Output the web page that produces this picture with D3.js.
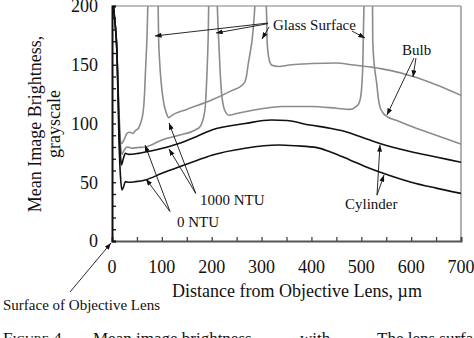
<!DOCTYPE html>
<html><head><meta charset="utf-8">
<script src="https://cdn.jsdelivr.net/npm/d3@7"></script>
<style>
body{margin:0;background:#fff}
svg{display:block}
text{font-family:"Liberation Serif","Times New Roman",serif;fill:#111}
</style></head>
<body><svg id="c" width="474" height="338"></svg>
<script>
// ---- data (distance µm, brightness grayscale) ----
const bulb1000 = [[0,215],[4,195],[10,160],[14,110],[19,83],[24,86],[30,91.5],[36,92.5],[42,91.5],[47,94],[53,96],[57,100],[61,106],[63.5,114],[65.5,127],[67,143],[68.5,157],[70,171],[71,186],[72,203],[82,300],[92.5,203],[93,186],[93.6,171],[95,157],[97,143],[100,129],[104,117],[109,109],[114,105],[120,107],[150,112],[200,120],[240,128],[262,133],[267,136],[270,141],[273,150],[277,160],[281,171],[285,190],[287,203],[299,300],[309,203],[310.5,185],[311,171],[314,157],[318,151],[321,149.5],[334,148.5],[360,150],[400,151],[450,151.5],[480,150],[520,148],[560,145],[604,140],[650,133],[700,124]];
const bulb0 = [[0,215],[4,195],[10,160],[14,105],[17,82],[20,73.7],[24,77],[30,80],[35,79.5],[40,79],[50,79.5],[67,80],[80,82],[100,86],[134,90],[167,94.5],[176,97],[180,100],[183,104],[185,108],[187,114],[189,128],[190.5,143],[192,160],[193,175],[194,203],[203,300],[211,203],[212.5,185],[214,171],[215.5,157],[217,143],[220,125],[224,114],[229,109],[234,107],[250,108.5],[267,110],[300,112.5],[341,114.5],[400,114.5],[450,113],[477,112],[488,114],[495,117],[499,123],[501,132],[503,150],[504,171],[505.5,203],[514,300],[522.5,203],[523,171],[526,150],[529,140],[531,134],[534,122],[537.5,114],[542,110],[548,107],[575,102],[604,97],[650,90],[700,82.5]];
const cyl1000 = [[0,215],[4,195],[10,160],[14,100],[17,72],[19,64.7],[22,69],[27,74.6],[33,73.7],[45,74],[53,74.6],[70,76],[87,77.4],[134,83],[170,89],[200,94.5],[267,100],[320,103],[350,102.5],[397,98.7],[437,96],[460,94],[500,88.5],[537,83],[600,76],[650,71.5],[700,67]];
const cyl0 = [[0,215],[4,195],[10,160],[14,85],[17,55],[20,43.4],[23,46],[27,50.5],[33,50],[47,50.5],[67,52],[100,57.6],[134,63],[170,68.5],[200,73],[267,79],[334,81.7],[370,81],[411,79.5],[437,76],[477,69],[510,63],[544,57.6],[600,50],[650,45],[700,40.5]];

const xTickValues = [0,50,100,150,200,250,300,350,400,450,500,550,600,650,700];
const xTickLabels = [0,100,200,300,400,500,600,700];
const yTickValues = d3.range(0,201,10);
const yTickLabels = [0,50,100,150,200];

// annotation arrows in data units: [fromX, fromY, toX, toY]
const glassArrows = [[313,185.5,86,174.5],[313,185,208.6,177],[315,182.1,300.8,171.9],[481.3,178.7,507.4,172.8]];
const bulbArrows = [[609.7,155.7,603.7,139.6],[605.7,155.7,551.5,107.2]];
const cylArrows = [[531.5,39,537.5,81.7],[531.5,39,545.6,56.2]];
const ntu1000Arrows = [[168,40.5,114.3,100.4],[168,40.5,114.3,78.3]];
const ntu0Arrows = [[116.3,25.1,66.2,81.7],[116.3,25.1,68.2,52.8]];
const lensArrows = [[-84.2,-43.4,-2,-1.7]];

// ---- drawing ----
const svg = d3.select("#c");
const L=112, R=461, T=6, B=241;
const x = d3.scaleLinear().domain([0,700]).range([L,R]);
const y = d3.scaleLinear().domain([0,200]).range([B,T]);

const defs = svg.append("defs");
defs.append("clipPath").attr("id","clip").append("rect")
  .attr("x",L).attr("y",T).attr("width",R-L).attr("height",B-T);
defs.append("marker").attr("id","ah").attr("viewBox","0 0 8 6")
  .attr("markerWidth",7).attr("markerHeight",5).attr("refX",8).attr("refY",3)
  .attr("orient","auto").attr("markerUnits","userSpaceOnUse")
  .append("path").attr("d","M0,0L8,3L0,6Z").attr("fill","#111");

// frame top/right
svg.append("line").attr("x1",L).attr("x2",R).attr("y1",T).attr("y2",T)
  .attr("stroke","#a8a8a8").attr("stroke-width",1.6);
svg.append("line").attr("x1",R).attr("x2",R).attr("y1",T).attr("y2",B)
  .attr("stroke","#a8a8a8").attr("stroke-width",1.8);

// curves
const line = d3.line().x(d=>x(d[0])).y(d=>y(d[1])).curve(d3.curveMonotoneX);
const g = svg.append("g").attr("clip-path","url(#clip)");
[[bulb1000,"#8c8c8c"],[bulb0,"#8c8c8c"],[cyl1000,"#111"],[cyl0,"#111"]].forEach(([d,c])=>{
  g.append("path").attr("d",line(d)).attr("fill","none").attr("stroke",c)
   .attr("stroke-width",1.6).attr("stroke-linejoin","round");
});

// axes
const xAxis = d3.axisBottom(x).tickValues(xTickValues).tickSize(-4).tickFormat("");
const gx = svg.append("g").attr("transform",`translate(0,${B})`).call(xAxis);
gx.select(".domain").attr("stroke","#555").attr("stroke-width",2);
gx.selectAll(".tick line").attr("stroke","#444").attr("stroke-width",1.3);
svg.append("g").selectAll("text").data(xTickLabels).join("text")
  .attr("x",d=>x(d)).attr("y",273).attr("text-anchor","middle")
  .attr("font-size",18).text(d=>d);

const yAxis = d3.axisLeft(y).tickValues(yTickValues).tickSize(-4).tickFormat("");
const gy = svg.append("g").attr("transform",`translate(${L},0)`).call(yAxis);
gy.select(".domain").attr("stroke","#111").attr("stroke-width",2);
gy.selectAll(".tick line").attr("stroke","#111").attr("stroke-width",1.3);
svg.append("g").selectAll("text").data(yTickLabels).join("text")
  .attr("x",98).attr("y",d=>y(d)).attr("dy","0.36em").attr("text-anchor","end")
  .attr("font-size",18).text(d=>d);

// titles
svg.append("text").attr("x",297).attr("y",297).attr("text-anchor","middle")
  .attr("font-size",18).text("Distance from Objective Lens, \u00b5m");
svg.append("text").attr("transform","translate(41,124) rotate(-90)")
  .attr("text-anchor","middle").attr("font-size",18).text("Mean Image Brightness,");
svg.append("text").attr("transform","translate(59.5,124) rotate(-90)")
  .attr("text-anchor","middle").attr("font-size",18).text("grayscale");

// annotations
const ann = svg.append("g");
function arrows(list){
  ann.selectAll(null).data(list).join("line")
    .attr("x1",d=>x(d[0])).attr("y1",d=>y(d[1]))
    .attr("x2",d=>x(d[2])).attr("y2",d=>y(d[3]))
    .attr("stroke","#111").attr("stroke-width",0.9).attr("marker-end","url(#ah)");
}
[glassArrows,bulbArrows,cylArrows,ntu1000Arrows,ntu0Arrows,lensArrows].forEach(arrows);

function label(t,px,py){ ann.append("text").attr("x",px).attr("y",py).attr("font-size",15).text(t); }
label("Glass Surface",273,29.5);
label("Bulb",402,55);
label("Cylinder",345,209);
label("1000 NTU",200,205);
label("0 NTU",177,227);
label("Surface of Objective Lens",3,310);

// partially visible caption
const cap = svg.append("text").attr("y",344).attr("font-size",17);
cap.append("tspan").attr("x",3).style("font-variant","small-caps").text("Figure 4.");
cap.append("tspan").attr("x",93).text("Mean image brightness");
cap.append("tspan").attr("x",300).text("with");
cap.append("tspan").attr("x",377).text("The lens surface is");
</script></body></html>
